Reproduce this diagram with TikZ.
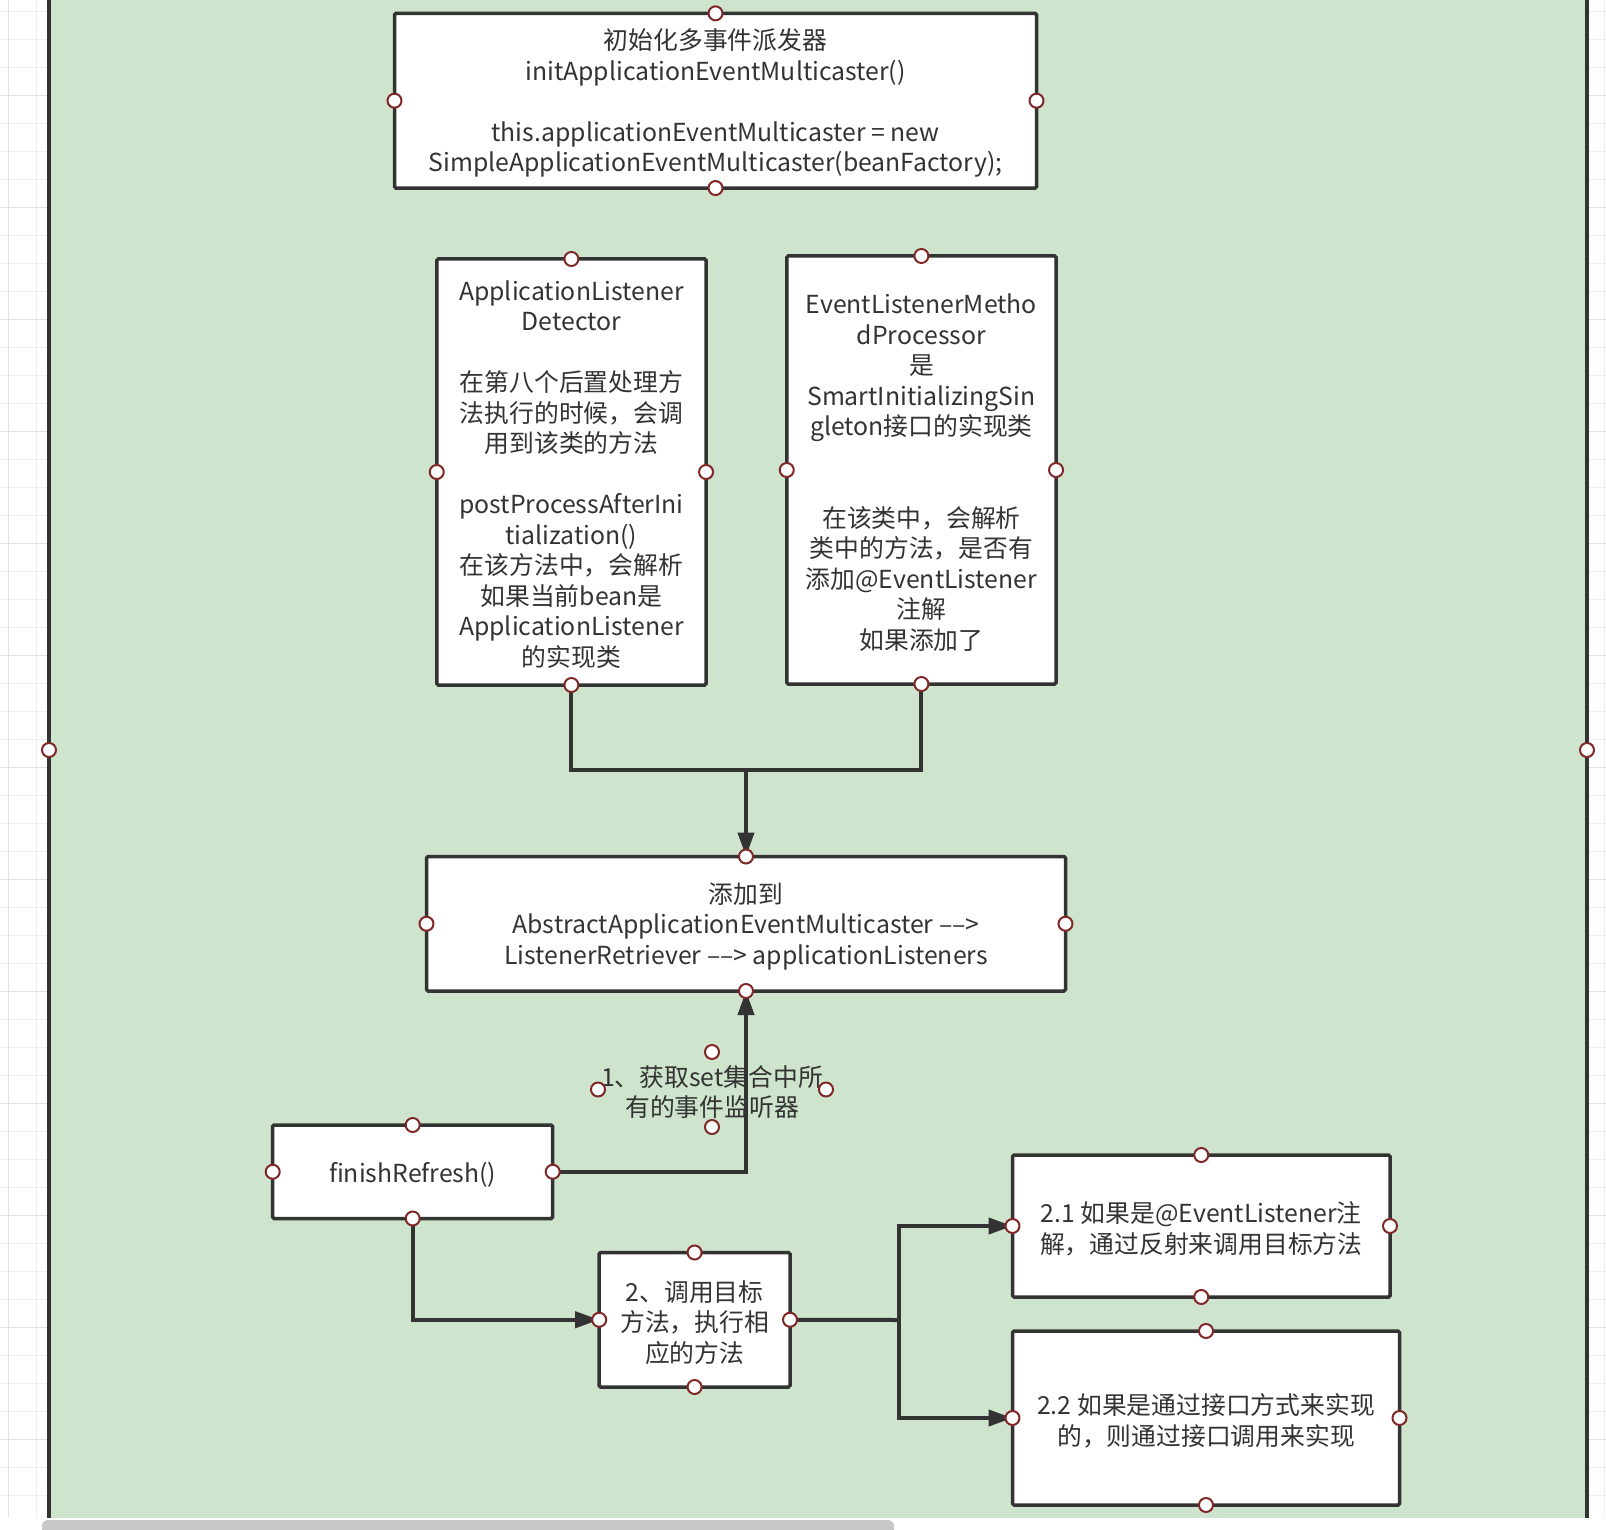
\documentclass[tikz,border=0pt]{standalone}
\usepackage{fontspec}
\setmainfont{Noto Sans CJK SC}
\usetikzlibrary{arrows.meta}
\definecolor{bggreen}{RGB}{207,228,204}
\definecolor{ink}{RGB}{51,51,51}
\definecolor{hdlred}{RGB}{128,40,40}
\definecolor{gminor}{RGB}{238,238,238}
\definecolor{gmajor}{RGB}{226,226,226}
\definecolor{scrollgray}{RGB}{199,199,199}
\newcommand{\boxfont}{\fontsize{24.8pt}{30.5pt}\selectfont}
\newcommand{\darrow}{\textendash\textendash>}
\begin{document}
\begin{tikzpicture}[x=1pt,y=-1pt,
  box/.style={draw=ink, line width=3.5pt, fill=white, rounded corners=1.5pt,
    inner sep=0pt, outer sep=0pt},
  lbl/.style={inner sep=0pt, outer sep=0pt, text=ink, font=\boxfont, align=center, yshift=-2.6pt},
  area/.style={inner sep=0pt, outer sep=0pt},
  conn/.style={draw=ink, line width=4pt},
  arr/.style={-{Triangle[length=24pt,width=16pt]}},
  hdl/.style={circle, draw=hdlred, line width=2pt, fill=white,
    minimum size=14pt, inner sep=0pt, outer sep=0pt},
  gmin/.style={draw=gminor, line width=1.2pt},
  gmaj/.style={draw=gmajor, line width=1.6pt},
  framebox/.style={fill=bggreen, inner sep=0pt, outer sep=0pt}
]
\useasboundingbox (0,0) rectangle (1606,1530);
\fill[white] (0,0) rectangle (1606,1530);

% background grid
\begin{scope}
  \clip (0,0) rectangle (1606,1517.7);
  \foreach \k in {0,...,54} \draw[gmin] (0,11.5+28*\k) -- (1606,11.5+28*\k);
  \foreach \k in {0,...,57} \draw[gmin] (8.3+28*\k,0) -- (8.3+28*\k,1530);
  \foreach \k in {3,7,...,51} \draw[gmaj] (0,11.5+28*\k) -- (1606,11.5+28*\k);
  \foreach \k in {0,4,...,56} \draw[gmaj] (8.3+28*\k,0) -- (8.3+28*\k,1530);
\end{scope}

% container
\node[framebox, minimum width=1538pt, minimum height=1535.4pt] (frame) at (818,750) {};
\draw[ink, line width=4pt] (frame.north west) -- (frame.south west);
\draw[ink, line width=4pt] (frame.north east) -- (frame.south east);

% boxes
\node[box, minimum width=642pt, minimum height=174.7pt] (A) at (715.5,100.7) {};
\node[box, minimum width=269.3pt, minimum height=426pt] (B) at (571.4,472) {};
\node[box, minimum width=269.3pt, minimum height=428pt] (C) at (921.4,470) {};
\node[box, minimum width=639pt, minimum height=134.5pt] (D) at (746,923.75) {};
\node[box, minimum width=280pt, minimum height=93.5pt] (E) at (412.7,1171.75) {};
\node[box, minimum width=190.8pt, minimum height=134.5pt] (F) at (694.6,1319.75) {};
\node[box, minimum width=377.5pt, minimum height=142pt] (G) at (1201.25,1226) {};
\node[box, minimum width=387pt, minimum height=174pt] (H) at (1206,1418) {};
\node[area, minimum width=228pt, minimum height=75pt] (L) at (712,1089.5) {};

% texts
\node[lbl] (At) at (A.center)
  {初始化多事件派发器\\initApplicationEventMulticaster()\\\mbox{}\\this.applicationEventMulticaster = new\\SimpleApplicationEventMulticaster(beanFactory);};
\node[lbl] (Bt) at (B.center)
  {ApplicationListener\\Detector\\\mbox{}\\在第八个后置处理方\\法执行的时候，会调\\用到该类的方法\\\mbox{}\\postProcessAfterIni\\tialization()\\在该方法中，会解析\\如果当前bean是\\ApplicationListener\\的实现类};
\node[lbl] (Ct) at (C.center)
  {EventListenerMetho\\dProcessor\\是\\SmartInitializingSin\\gleton接口的实现类\\\mbox{}\\\mbox{}\\在该类中，会解析\\类中的方法，是否有\\添加@EventListener\\注解\\如果添加了};
\node[lbl] (Dt) at (D.center)
  {添加到\\AbstractApplicationEventMulticaster \darrow\\ListenerRetriever \darrow{} applicationListeners};
\node[lbl] (Et) at (E.center) {finishRefresh()};
\node[lbl] (Ft) at (F.center) {2、调用目标\\方法，执行相\\应的方法};
\node[lbl] (Gt) at (G.center) {2.1 如果是@EventListener注\\解，通过反射来调用目标方法};
\node[lbl] (Ht) at (H.center) {2.2 如果是通过接口方式来实现\\的，则通过接口调用来实现};
\node[lbl] (Lt) at (L.center) {1、获取set集合中所\\有的事件监听器};

% connectors
\coordinate (jn) at (746,770);
\coordinate (sp) at (899,1320);
\draw[conn] (B.south) |- (jn) -| (C.south);
\draw[conn, arr] (jn) -- (D.north);
\draw[conn, arr] (E.east) -| (D.south);
\draw[conn, arr] (E.south) |- (F.west);
\draw[conn] (F.east) -- (sp);
\draw[conn, arr] (sp) |- (G.west);
\draw[conn, arr] (sp) |- (H.west);

% connection handles
\foreach \n in {A,B,C,D,E,F,G,H,L}{
  \foreach \a in {north,south,east,west}{
    \node[hdl] (h\n\a) at (\n.\a) {};
  }
}
\node[hdl] (hframew) at (frame.west) {};
\node[hdl] (hframee) at (frame.east) {};

% scrollbar
\fill[white] (0,1517.7) rectangle (1606,1530);
\fill[scrollgray, rounded corners=6pt] (42,1520) rectangle (894,1545);
\end{tikzpicture}
\end{document}
